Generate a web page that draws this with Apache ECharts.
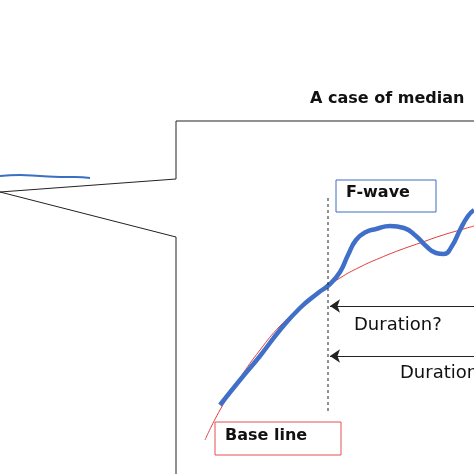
<!DOCTYPE html><html><head><meta charset="utf-8"><script src="https://cdn.jsdelivr.net/npm/echarts@6/dist/echarts.min.js"></script></head><body style="margin:0"><div id="c" style="width:474px;height:474px"></div><script>
const blueCurve=[[220,405],[240,380],[260,356],[280,330],[300,308],[318,293],[330,284],[340,272],[348,255],[356,240],[366,232],[376,229],[390,226],[404,228],[416,236],[426,246],[436,253],[444,254],[452,246],[460,230],[468,216],[474,210]];
const redCurve=[[205,440],[220,410],[240,378],[260,350],[280,326],[300,308],[320,292],[340,278],[360,267],[380,258],[400,250],[420,243],[440,236],[460,230],[474,226]];
const smallBlue=[[0,176],[20,175],[40,176],[60,177],[75,177],[90,178]];
const callTop=[[0,192],[176,179]];
const callBot=[[0,192],[176,237]];
const boxOutline=[[474,121],[176,121],[176,179]];
const boxOutline2=[[176,237],[176,474]];
const dashed=[[328,198],[328,412]];
const arrows=[{coords:[[474,306],[330,306]]},{coords:[[474,356],[330,356]]}];
const chart=echarts.init(document.getElementById('c'));
const ln=(d,c,w,extra)=>Object.assign({type:'line',data:d,symbol:'none',smooth:false,lineStyle:{color:c,width:w},silent:true,animation:false},extra||{});
chart.setOption({
grid:{left:0,right:0,top:0,bottom:0},
xAxis:{type:'value',min:0,max:474,show:false},
yAxis:{type:'value',min:0,max:474,inverse:true,show:false},
series:[
ln(boxOutline,'#222',1),ln(boxOutline2,'#222',1),
ln(callTop,'#222',1),ln(callBot,'#222',1),
ln(smallBlue,'#3b6fc4',2,{smooth:true}),
ln(redCurve,'#e03c3c',1,{smooth:true}),
ln(blueCurve,'#3f6fc8',4.5,{smooth:true}),
ln(dashed,'#222',1,{lineStyle:{color:'#222',width:1,type:[3,3]}}),
{type:'lines',coordinateSystem:'cartesian2d',data:arrows,symbol:['none','arrow'],symbolSize:10,lineStyle:{color:'#222',width:1,opacity:1},silent:true,animation:false}
],
graphic:[
{type:'text',left:310,top:91,style:{text:'A case of median',font:'bold 16px "DejaVu Sans"',fill:'#111'}},
{type:'rect',shape:{x:336,y:180,width:100,height:32},style:{fill:'#fff',stroke:'#3b6fc4',lineWidth:1},z:10},
{type:'text',left:346,top:185,style:{text:'F-wave',font:'bold 16px "DejaVu Sans"',fill:'#111'},z:11},
{type:'rect',shape:{x:215,y:422,width:126,height:33},style:{fill:'#fff',stroke:'#e05050',lineWidth:1},z:10},
{type:'text',left:225,top:428,style:{text:'Base line',font:'bold 16px "DejaVu Sans"',fill:'#111'},z:11},
{type:'text',left:354,top:316,style:{text:'Duration?',font:'18px "DejaVu Sans"',fill:'#111'}},
{type:'text',left:400,top:364,style:{text:'Duration',font:'18px "DejaVu Sans"',fill:'#111'}}
]});
</script></body></html>
